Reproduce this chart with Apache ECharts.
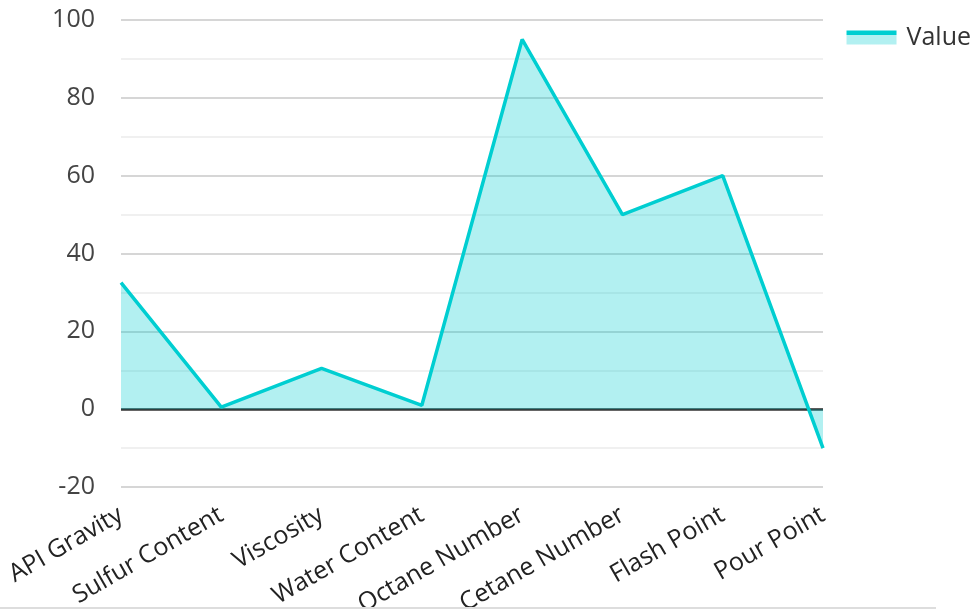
<!DOCTYPE html>
<html>
<head>
<meta charset="utf-8">
<script src="https://cdn.jsdelivr.net/npm/echarts@6/dist/echarts.min.js"></script>
<style>
html,body{margin:0;padding:0;background:#fff;overflow:hidden;}
#chart{width:972px;height:607px;}
#rule{width:936px;height:2px;background:#ddd;}
</style>
</head>
<body>
<div id="chart"></div>
<div id="rule"></div>
<script>
const categories = ["API Gravity","Sulfur Content","Viscosity","Water Content","Octane Number","Cetane Number","Flash Point","Pour Point"];
const values = [32.5, 0.5, 10.5, 1, 95, 50, 60, -10];
const yTicks = {min: -20, max: 100, interval: 20};
const seriesName = "Value";

const chart = echarts.init(document.getElementById('chart'));
const font = "Open Sans";
chart.setOption({
  animation: false,
  textStyle: {fontFamily: font},
  legend: {
    right: 1, top: 20,
    padding: [5, 0, 5, 5],
    icon: 'rect',
    itemWidth: 50, itemHeight: 14, itemGap: 10,
    itemStyle: {
      color: new echarts.graphic.LinearGradient(0, 0, 0, 1, [
        {offset: 0, color: '#00CED1'},
        {offset: 0.29, color: '#00CED1'},
        {offset: 0.29, color: '#b2f0f1'},
        {offset: 1, color: '#b2f0f1'}
      ]),
      borderWidth: 0
    },
    textStyle: {fontSize: 25, color: '#333', fontFamily: font, padding: [0, 0, 0, 5]},
    data: [seriesName]
  },
  grid: {left: 121, right: 149, top: 20, bottom: 120, containLabel: false, outerBoundsMode: 'none'},
  xAxis: {
    type: 'category',
    data: categories,
    boundaryGap: false,
    axisLine: {show: false, onZero: false},
    axisTick: {show: false},
    axisLabel: {interval: 0, rotate: 30, fontSize: 25, color: '#222', margin: 26, fontFamily: font},
    splitLine: {show: false}
  },
  yAxis: {
    type: 'value',
    min: yTicks.min, max: yTicks.max, interval: yTicks.interval,
    axisLine: {show: false},
    axisTick: {show: false},
    axisLabel: {fontSize: 25, color: '#444', margin: 26, fontFamily: font},
    splitLine: {show: true, lineStyle: {color: '#c8c8c8', width: 1.5}},
    minorTick: {show: false, splitNumber: 2},
    minorSplitLine: {show: true, lineStyle: {color: '#ececec', width: 1.5}}
  },
  series: [{
    name: seriesName,
    type: 'line',
    data: values,
    showSymbol: false,
    symbol: 'none',
    lineStyle: {color: '#00CED1', width: 3.5},
    itemStyle: {color: '#00CED1'},
    areaStyle: {color: '#00CED1', opacity: 0.3},
    markLine: {
      silent: true,
      symbol: 'none',
      label: {show: false},
      lineStyle: {color: '#333', type: 'solid', width: 2.5},
      data: [{yAxis: 0}],
      z: 1
    }
  }]
});
</script>
</body>
</html>
